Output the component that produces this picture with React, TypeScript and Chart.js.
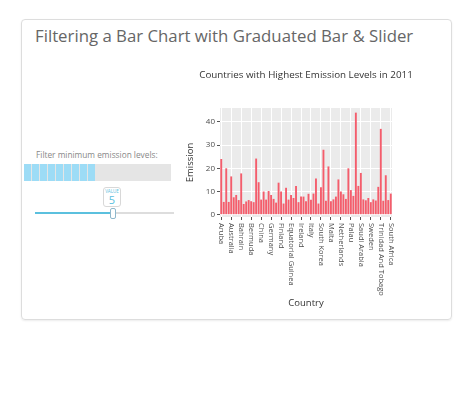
import React, { useEffect, useRef } from "react";
import { Chart, registerables } from "chart.js";

Chart.register(...registerables);

// ISO-code ordered countries (2011)
const countries: string[] = [
  "Aruba", "Andorra", "United Arab Emirates", "Antigua And Barbuda", "Australia", "Austria", "Belgium", "Bulgaria",
  "Bahrain", "Bahamas", "Bosnia And Herzegovina", "Belarus", "Bermuda", "Barbados", "Brunei", "Canada",
  "China", "Curacao", "Cyprus", "Czech Republic", "Germany", "Denmark", "Spain", "Estonia",
  "Finland", "France", "Faroe Islands", "United Kingdom", "Equatorial Guinea", "Greece", "Greenland", "Hong Kong",
  "Ireland", "Iran", "Iceland", "Israel", "Italy", "Japan", "Kazakhstan", "Saint Kitts And Nevis",
  "South Korea", "Kuwait", "Libya", "Luxembourg", "Malta", "Mongolia", "Malaysia", "New Caledonia",
  "Netherlands", "Norway", "New Zealand", "Oman", "Palau", "Poland", "Qatar", "Russia",
  "Saudi Arabia", "Singapore", "Slovakia", "Slovenia", "Sweden", "Sint Maarten", "Seychelles", "Turkmenistan",
  "Trinidad And Tobago", "Ukraine", "United States", "British Virgin Islands", "South Africa",
];

const emissions: number[] = [
  24, 5.5, 20, 5.5, 16.5, 7.5, 8.5, 6.3,
  17.8, 4.6, 5.7, 6.3, 5.8, 5.4, 24.2, 14,
  6.5, 10, 6.5, 10.2, 8.5, 6.8, 5.2, 13.8,
  10, 4.8, 11.6, 6.5, 8.5, 7.2, 12.4, 5.4,
  7.8, 7.8, 5.8, 9, 6.4, 9.1, 15.6, 4.8,
  11.8, 28, 6, 20.8, 5.8, 6.6, 7.8, 15.2,
  10, 8.8, 6.8, 20, 10.6, 8.1, 44, 12.4,
  18, 6.6, 6.2, 7.2, 5.4, 6.6, 6.1, 12,
  37, 6, 17, 6.3, 9.1,
];

const labelStep = 4;
const xTickLabels: string[] = countries.filter((_, i) => i % labelStep === 0);
const yTicks: number[] = [0, 10, 20, 30, 40];

const chartTitle = "Countries with Highest Emission Levels in 2011";
const pageTitle = "Filtering a Bar Chart with Graduated Bar & Slider";
const filterValue = 5;
const filterSegments = 9;

const FONT = '"Open Sans", "DejaVu Sans", sans-serif';

function EmissionChart() {
  const ref = useRef<HTMLCanvasElement | null>(null);
  useEffect(() => {
    if (!ref.current) return;
    const bgPlugin = {
      id: "plotBg",
      beforeDraw(chart: any) {
        const { ctx, chartArea } = chart;
        ctx.save();
        ctx.fillStyle = "#ebebeb";
        ctx.fillRect(chartArea.left, chartArea.top, chartArea.right - chartArea.left, chartArea.bottom - chartArea.top);
        ctx.restore();
      },
    };
    const textPlugin = {
      id: "extraText",
      afterDraw(chart: any) {
        const xs = chart.scales.x;
        const ctx = chart.ctx;
        const ca = chart.chartArea;
        ctx.save();
        // chart title, centred over the plot panel
        ctx.font = `9.8px ${FONT}`;
        ctx.fillStyle = "#333";
        ctx.textAlign = "center";
        ctx.textBaseline = "middle";
        ctx.fillText(chartTitle, (ca.left + ca.right) / 2, 13);
        // rotated category labels (top-to-bottom)
        ctx.font = `7.5px ${FONT}`;
        ctx.fillStyle = "#4d4d4d";
        ctx.textAlign = "left";
        ctx.textBaseline = "middle";
        xTickLabels.forEach((lab, k) => {
          const x = xs.getPixelForTick(k * labelStep);
          ctx.save();
          ctx.translate(x, xs.top + 6);
          ctx.rotate(Math.PI / 2);
          ctx.fillText(lab, 0, 0);
          ctx.restore();
        });
        ctx.restore();
      },
    };
    const chart = new Chart(ref.current, {
      type: "bar",
      data: {
        labels: countries,
        datasets: [
          {
            data: emissions,
            backgroundColor: "#f45d6c",
            borderWidth: 0,
            barPercentage: 0.76,
            categoryPercentage: 1,
          },
        ],
      },
      options: {
        responsive: false,
        animation: false,
        layout: { padding: { left: 0, right: 44, top: 46, bottom: 0 } },
        plugins: {
          legend: { display: false },
          tooltip: { enabled: false },
          title: { display: false },
        },
        scales: {
          x: {
            type: "category",
            offset: true,
            border: { display: false },
            grid: {
              offset: false,
              lineWidth: 1,
              color: (c: any) => (c.index % labelStep === 0 ? "#ffffff" : "rgba(0,0,0,0)"),
              tickColor: (c: any) => (c.index % labelStep === 0 ? "#555" : "rgba(0,0,0,0)"),
              tickLength: 3,
            },
            ticks: { display: false },
            title: {
              display: true,
              text: "Country",
              color: "#333",
              font: { family: FONT, size: 9.5 },
              padding: { top: 0, bottom: 3 },
            },
            afterFit: (s: any) => {
              s.height = 95;
            },
          },
          y: {
            min: -1,
            max: 46,
            border: { display: false },
            grid: { color: "#ffffff", lineWidth: 1, tickColor: "#555", tickLength: 3 },
            ticks: {
              color: "#4d4d4d",
              font: { family: FONT, size: 8 },
              padding: 2,
            },
            afterBuildTicks: (s: any) => {
              s.ticks = yTicks.map((v) => ({ value: v }));
            },
            title: {
              display: true,
              text: "Emission",
              color: "#333",
              font: { family: FONT, size: 9.5 },
              padding: { top: 9, bottom: 0 },
            },
            afterFit: (s: any) => {
              s.width = 44;
            },
          },
        },
      } as any,
      plugins: [bgPlugin, textPlugin],
    });
    return () => chart.destroy();
  }, []);
  return (
    <canvas
      ref={ref}
      width={260}
      height={250}
      style={{ position: "absolute", left: 176, top: 62, width: 260, height: 250 }}
    />
  );
}

export default function App() {
  const segW = 8;
  return (
    <div style={{ position: "absolute", left: 0, top: 0, width: 474, height: 399, fontFamily: FONT, background: "#fff" }}>
      <div
        style={{
          position: "absolute",
          left: 21,
          top: 19,
          width: 429,
          height: 299,
          border: "1px solid #dddddd",
          borderRadius: 4,
          boxShadow: "0 1px 2px rgba(0,0,0,0.08)",
        }}
      />
      <div style={{ position: "absolute", left: 35, top: 24, fontSize: 16.8, color: "#666", whiteSpace: "nowrap" }}>
        {pageTitle}
      </div>
      <div style={{ position: "absolute", left: 36, top: 149, fontSize: 8.3, lineHeight: "12px", color: "#888", whiteSpace: "nowrap" }}>
        Filter minimum emission levels:
      </div>
      <div style={{ position: "absolute", left: 24, top: 164, width: 147, height: 17, background: "#e5e5e5" }}>
        {Array.from({ length: filterSegments }).map((_, i) => (
          <div
            key={i}
            style={{
              position: "absolute",
              left: i * segW,
              top: 0,
              width: segW - 1,
              height: 17,
              background: "#9ddcf6",
            }}
          />
        ))}
      </div>
      <div
        style={{
          position: "absolute",
          left: 103,
          top: 187,
          width: 16,
          height: 18,
          border: "1px solid #d8d8d8",
          borderRadius: 3,
          background: "#fff",
        }}
      >
        <div style={{ position: "absolute", left: 0, top: 1, width: 16, textAlign: "center", fontSize: 4.5, lineHeight: "5px", color: "#5bc0de" }}>
          VALUE
        </div>
        <div style={{ position: "absolute", left: 0, top: 6, width: 16, textAlign: "center", fontSize: 11, lineHeight: "12px", color: "#5bc0de" }}>
          {filterValue}
        </div>
      </div>
      <div style={{ position: "absolute", left: 35, top: 212, width: 139, height: 2, background: "#dddddd" }} />
      <div style={{ position: "absolute", left: 35, top: 212, width: 77, height: 2, background: "#5bc0de" }} />
      <div
        style={{
          position: "absolute",
          left: 110,
          top: 208,
          width: 4,
          height: 9,
          background: "#fff",
          border: "1px solid #8fb8cc",
          borderRadius: 2,
        }}
      />
      <EmissionChart />
    </div>
  );
}
